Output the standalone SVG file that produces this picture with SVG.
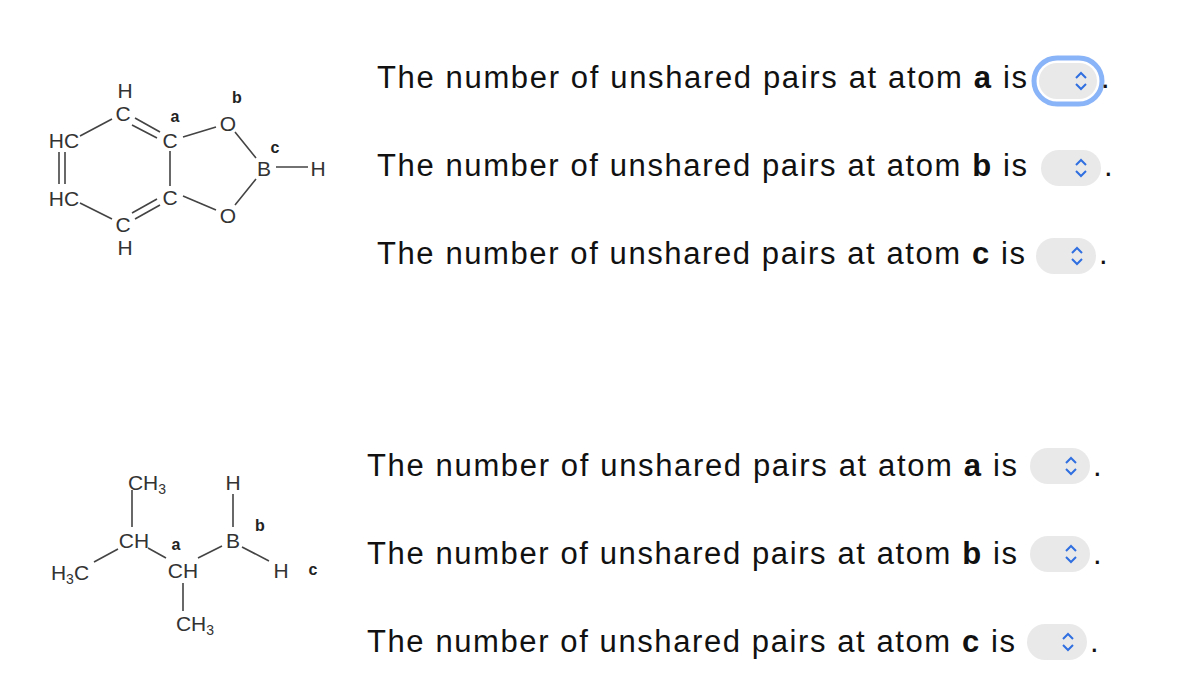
<svg xmlns="http://www.w3.org/2000/svg" width="1193" height="681" viewBox="0 0 1193 681">
<style>
.m{font-family:"Liberation Sans",Arial,sans-serif;font-size:21px;fill:#333;text-anchor:middle}
.s{font-size:14px}
.l{font-family:"Liberation Sans",Arial,sans-serif;font-size:16px;font-weight:bold;fill:#222;text-anchor:middle}
.q{font-family:"Liberation Sans",Arial,sans-serif;font-size:31px;fill:#111}
.bd{stroke:#444;stroke-width:1.6;fill:none}
.pill{fill:#e9e9ea}
.chev{stroke:#2f6fe0;stroke-width:2;fill:none}
</style>
<rect width="1193" height="681" fill="#fff"/>
<g id="connectors">
<path class="bd" d="M80,136 L112,119 M135,118 L160,132 M132,125 L157,138 M183,137 L216,127 M235,132 L256,158 M276,167 L308,167 M256,179 L235,205 M183,196 L216,210 M170,151 L170,186 M157,199 L132,213 M160,205 L135,219 M112,219 L80,203 M59,152 L59,184 M65,152 L65,184"/>
<path class="bd" d="M132,490 L132,527 M94,562 L118,549 M148,548 L166,558 M198,558 L222,546 M233,494 L233,527 M242,547 L269,561 M183,583 L183,611"/>
</g>
<g id="mol1">
<text class="m" x="125" y="98">H</text>
<text class="m" x="123" y="121">C</text>
<text class="l" x="175" y="122">a</text>
<text class="m" x="170" y="148">C</text>
<text class="l" x="237" y="103">b</text>
<text class="m" x="228" y="131">O</text>
<text class="l" x="275" y="153">c</text>
<text class="m" x="264" y="176">B</text>
<text class="m" x="318" y="176">H</text>
<text class="m" x="170" y="205">C</text>
<text class="m" x="228" y="223">O</text>
<text class="m" x="64" y="148">HC</text>
<text class="m" x="64" y="206">HC</text>
<text class="m" x="123" y="232">C</text>
<text class="m" x="125" y="255">H</text>
</g>
<g id="mol2">
<text class="m" x="147" y="490">CH<tspan class="s" dy="4">3</tspan></text>
<text class="m" x="233" y="490">H</text>
<text class="m" x="134" y="548">CH</text>
<text class="l" x="176" y="550">a</text>
<text class="m" x="233" y="548">B</text>
<text class="l" x="260" y="531">b</text>
<text class="m" x="183" y="578">CH</text>
<text class="m" x="70" y="580">H<tspan class="s" dy="4">3</tspan><tspan dy="-4">C</tspan></text>
<text class="m" x="281" y="578">H</text>
<text class="l" x="313" y="575">c</text>
<text class="m" x="195" y="631">CH<tspan class="s" dy="4">3</tspan></text>
</g>
<g id="questions">
<text class="q" x="377" y="88" textLength="650">The number of unshared pairs at atom <tspan font-weight="bold">a</tspan> is</text>
<text class="q" x="377" y="176" textLength="650">The number of unshared pairs at atom <tspan font-weight="bold">b</tspan> is</text>
<text class="q" x="377" y="264" textLength="648">The number of unshared pairs at atom <tspan font-weight="bold">c</tspan> is</text>
<text class="q" x="367" y="476" textLength="650">The number of unshared pairs at atom <tspan font-weight="bold">a</tspan> is</text>
<text class="q" x="367" y="564" textLength="650">The number of unshared pairs at atom <tspan font-weight="bold">b</tspan> is</text>
<text class="q" x="367" y="652" textLength="648">The number of unshared pairs at atom <tspan font-weight="bold">c</tspan> is</text>
</g>
<g id="select1">
<rect x="1034" y="58" width="68" height="46" rx="23" fill="none" stroke="#8ab4f8" stroke-width="5"/>
<rect x="1039" y="63" width="58" height="36" rx="18" class="pill"/>
<path class="chev" d="M1076,78 L1081,73 L1086,78 M1076,84 L1081,89 L1086,84"/>
<text class="q" x="1101" y="88">.</text>
</g>
<g id="select2"><rect x="1041" y="150" width="60" height="36" rx="18" class="pill"/><path class="chev" d="M1076,165 L1081,160 L1086,165 M1076,171 L1081,176 L1086,171"/><text class="q" x="1104" y="176">.</text></g>
<g id="select3"><rect x="1036" y="238" width="60" height="36" rx="18" class="pill"/><path class="chev" d="M1072,253 L1077,248 L1082,253 M1072,259 L1077,264 L1082,259"/><text class="q" x="1099" y="264">.</text></g>
<g id="select4"><rect x="1030" y="448" width="60" height="36" rx="18" class="pill"/><path class="chev" d="M1066,463 L1071,458 L1076,463 M1066,469 L1071,474 L1076,469"/><text class="q" x="1093" y="476">.</text></g>
<g id="select5"><rect x="1030" y="536" width="60" height="36" rx="18" class="pill"/><path class="chev" d="M1066,551 L1071,546 L1076,551 M1066,557 L1071,562 L1076,557"/><text class="q" x="1093" y="564">.</text></g>
<g id="select6"><rect x="1027" y="624" width="60" height="36" rx="18" class="pill"/><path class="chev" d="M1063,639 L1068,634 L1073,639 M1063,645 L1068,650 L1073,645"/><text class="q" x="1090" y="652">.</text></g>
</svg>
